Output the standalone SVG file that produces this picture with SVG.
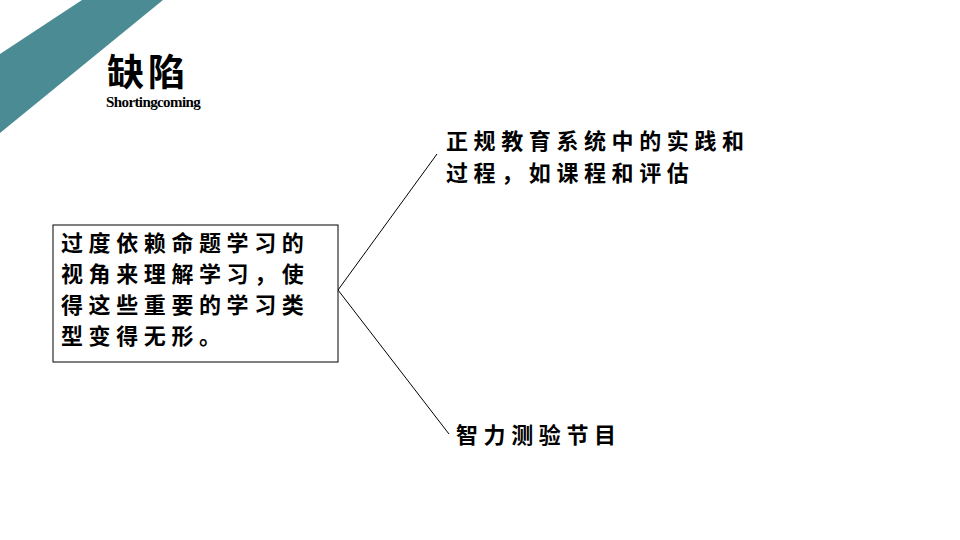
<svg xmlns="http://www.w3.org/2000/svg" width="960" height="540" viewBox="0 0 960 540">
<style>
.cjk{font-family:"Noto Sans CJK SC","Liberation Serif",serif;font-weight:bold;fill:#000}
.t{font-size:22px;letter-spacing:5.6px}
</style>
<rect width="960" height="540" fill="#fff"/>
<polygon points="82,0 163,0 0,133 0,54" fill="#4b8b93"/>
<g id="title">
<text class="cjk" x="107" y="86" font-size="37" letter-spacing="4">缺陷</text>
<text x="106" y="107" font-family="Liberation Serif,serif" font-size="15" font-weight="bold" letter-spacing="-0.6">Shortingcoming</text>
</g>
<g id="connectors" stroke="#000" stroke-width="1" fill="none">
<line x1="338" y1="290" x2="437" y2="154"/>
<line x1="338" y1="290" x2="449" y2="434"/>
</g>
<g id="main">
<rect x="53" y="225" width="285" height="137" fill="#fff" stroke="#000" stroke-width="1"/>
<text class="cjk t" x="61" y="251">过度依赖命题学习的</text>
<text class="cjk t" x="61" y="282">视角来理解学习，使</text>
<text class="cjk t" x="61" y="313">得这些重要的学习类</text>
<text class="cjk t" x="61" y="344">型变得无形。</text>
</g>
<g id="top">
<text class="cjk t" x="446" y="149">正规教育系统中的实践和</text>
<text class="cjk t" x="446" y="181">过程，如课程和评估</text>
</g>
<g id="bottom">
<text class="cjk t" x="456" y="443">智力测验节目</text>
</g>
</svg>
